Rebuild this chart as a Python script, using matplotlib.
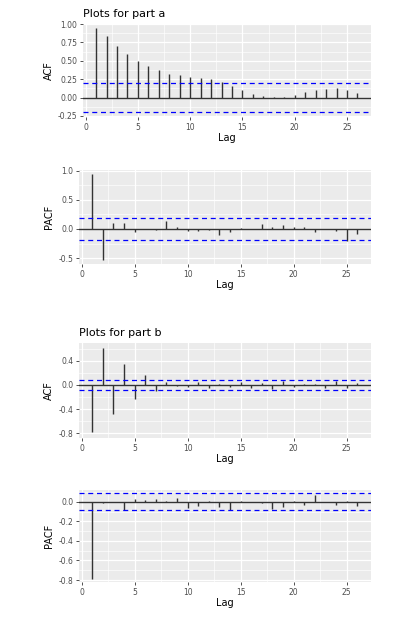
import matplotlib.pyplot as plt
from matplotlib.ticker import MultipleLocator

lags = list(range(1, 27))

acf_a = [0.95, 0.83, 0.70, 0.59, 0.50, 0.43, 0.37, 0.32, 0.30, 0.28, 0.27, 0.25, 0.21,
         0.16, 0.10, 0.05, 0.02, 0.01, 0.01, 0.03, 0.07, 0.10, 0.12, 0.13, 0.10, 0.06]
pacf_a = [0.95, -0.53, 0.10, 0.10, -0.05, 0.00, -0.02, 0.14, 0.04, -0.03, -0.04, -0.02, -0.10,
          -0.06, 0.01, 0.00, 0.09, 0.04, 0.06, 0.03, 0.04, -0.05, 0.00, -0.04, -0.20, -0.08]
acf_b = [-0.78, 0.62, -0.49, 0.35, -0.23, 0.17, -0.10, 0.05, -0.02, -0.03, 0.05, -0.05, 0.02,
         -0.04, 0.05, -0.05, 0.04, -0.06, 0.06, -0.04, 0.01, 0.02, -0.05, 0.06, -0.05, 0.04]
pacf_b = [-0.79, -0.01, 0.00, -0.08, 0.03, 0.02, 0.03, 0.01, 0.04, -0.06, -0.04, 0.01, -0.05,
          -0.08, 0.01, 0.00, -0.01, -0.07, -0.05, 0.01, -0.03, 0.07, 0.00, -0.03, 0.01, -0.04]
bound_a = 0.196
bound_b = 0.088

W, H = 412, 625
fig = plt.figure(figsize=(W / 100, H / 100), dpi=100)


def panel(box, vals, bound, ylabel, ylim, ystep, yfmt, title=None):
    l, t, r, b = box
    ax = fig.add_axes([l / W, 1 - b / H, (r - l) / W, (b - t) / H])
    ax.set_facecolor('#EBEBEB')
    for s in ax.spines.values():
        s.set_visible(False)
    ax.set_xlim(-0.25, 27.3)
    ax.set_ylim(*ylim)
    ax.xaxis.set_major_locator(MultipleLocator(5))
    ax.xaxis.set_minor_locator(MultipleLocator(2.5))
    ax.yaxis.set_major_locator(MultipleLocator(ystep))
    ax.yaxis.set_minor_locator(MultipleLocator(ystep / 2))
    ax.grid(which='major', color='white', linewidth=0.9)
    ax.grid(which='minor', color='white', linewidth=0.45)
    ax.set_axisbelow(True)
    ax.tick_params(which='major', length=2.5, width=0.6, color='#333333',
                   labelsize=5.5, labelcolor='#4D4D4D', pad=1.5)
    ax.tick_params(which='minor', length=0)
    ax.yaxis.set_major_formatter(yfmt)
    ax.axhline(0, color='#333333', linewidth=1.0, zorder=2)
    ax.vlines(lags, 0, vals, color='#333333', linewidth=1.0, zorder=3)
    ax.axhline(bound, color='#0000FF', linestyle=(0, (4, 3)), linewidth=0.9, zorder=4)
    ax.axhline(-bound, color='#0000FF', linestyle=(0, (4, 3)), linewidth=0.9, zorder=4)
    ax.set_xlabel('Lag', fontsize=7, labelpad=1)
    ax.set_ylabel(ylabel, fontsize=7, labelpad=3)
    if title:
        ax.set_title(title, fontsize=8, loc='left', pad=5)
    return ax


panel((83, 24, 371, 117), acf_a, bound_a, 'ACF', (-0.265, 1.0), 0.25,
      lambda v, p: f'{v:.2f}', 'Plots for part a')
panel((79, 170, 371, 264), pacf_a, bound_a, 'PACF', (-0.6, 1.01), 0.5,
      lambda v, p: f'{v:.1f}')
panel((79, 343, 371, 438), acf_b, bound_b, 'ACF', (-0.88, 0.695), 0.4,
      lambda v, p: f'{v:.1f}', 'Plots for part b')
panel((79, 490, 371, 582), pacf_b, bound_b, 'PACF', (-0.82, 0.12), 0.2,
      lambda v, p: f'{v:.1f}')

fig.savefig('out.png', dpi=100, facecolor='white')
